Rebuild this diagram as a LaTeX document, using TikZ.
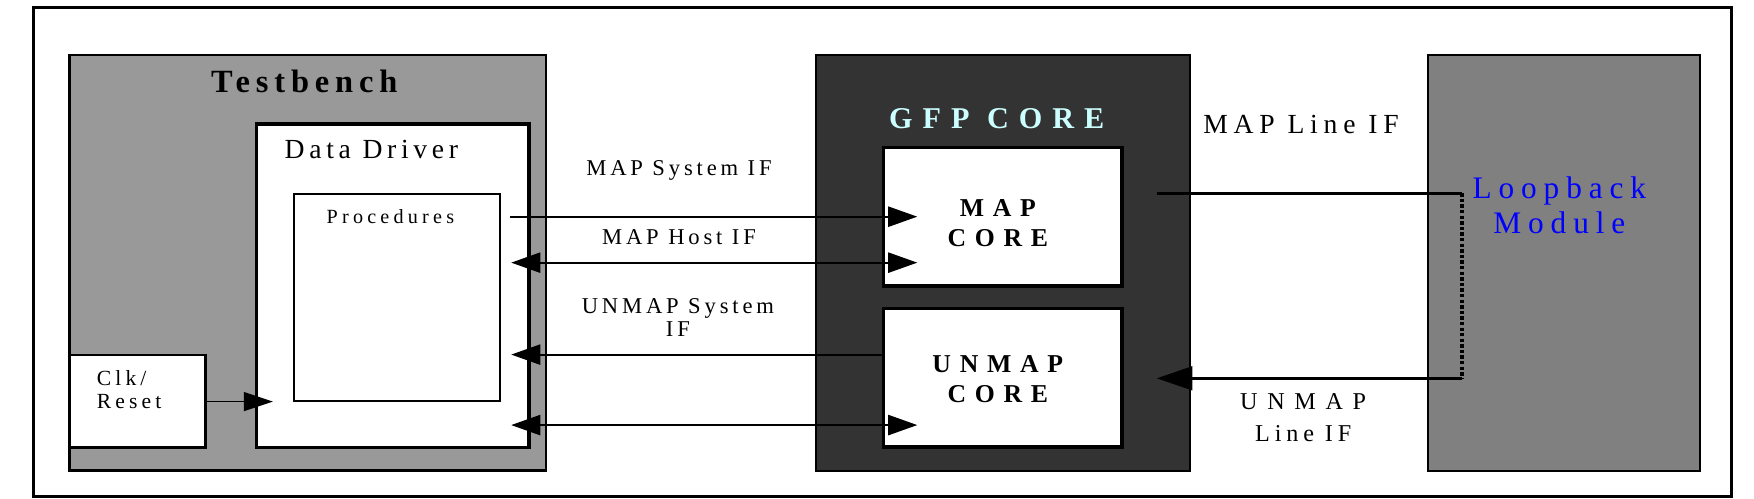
\documentclass[tikz,border=0pt]{standalone}
\usepackage{fontspec}
\setmainfont{Liberation Serif}
\usetikzlibrary{arrows.meta}
\definecolor{tbgray}{HTML}{999999}
\definecolor{gfpdark}{HTML}{333333}
\definecolor{loopgray}{HTML}{808080}
\definecolor{gfpcyan}{HTML}{CCFFFF}
\definecolor{loopblue}{HTML}{0000FF}
\newcommand\lsf[3]{\fontsize{#1}{#2}\selectfont\addfontfeatures{LetterSpace=#3}}
\begin{document}
\begin{tikzpicture}[x=1pt,y=-1pt,
  box/.style={draw=black, inner sep=0pt, outer sep=0pt},
  txt/.style={inner sep=0pt, outer sep=0pt, text=black, anchor=base},
  arr/.style={line width=1.8pt, -{Triangle[length=26pt,width=18pt]}},
  darr/.style={line width=1.8pt, {Triangle[length=26pt,width=18pt]}-{Triangle[length=26pt,width=18pt]}},
  thick line/.style={line width=3.2pt},
]
\useasboundingbox (0,0) rectangle (1568,446);
% boxes
\node[box, line width=3pt, minimum width=1518pt, minimum height=437.5pt] (frame) at (789,225.25) {};
\node[box, line width=2.2pt, fill=tbgray, minimum width=426pt, minimum height=371.6pt] (testbench) at (275,235) {};
\node[box, line width=3pt, fill=white, minimum width=243.5pt, minimum height=289.1pt] (driver) at (351.25,255.45) {};
\node[box, line width=2pt, fill=white, minimum width=184pt, minimum height=185.1pt] (procs) at (355,265.95) {};
\node[box, line width=2.5pt, fill=white, minimum width=122pt, minimum height=82.8pt] (clk) at (123,358.8) {};
\node[box, line width=2pt, fill=gfpdark, minimum width=334.5pt, minimum height=371.6pt] (gfp) at (896.75,235) {};
\node[box, line width=2.8pt, fill=white, minimum width=213pt, minimum height=124pt] (mapcore) at (896.5,193.7) {};
\node[box, line width=2.8pt, fill=white, minimum width=213pt, minimum height=123.6pt] (unmapcore) at (896.5,337.8) {};
\node[box, line width=2pt, fill=loopgray, minimum width=243.7pt, minimum height=371.6pt] (loop) at (1398.15,235) {};
% texts
\node[txt, font={\lsf{29}{29}{18}\bfseries}] (tbt) at (272,82.9) {Testbench};
\node[txt, font={\lsf{24.7}{24.7}{17}}] (ddt) at (332,141.5) {Data Driver};
\node[txt, font={\lsf{18}{18}{21}}] (prt) at (349,199.6) {Procedures};
\node[txt, anchor=base west, align=left, font={\lsf{19.3}{20.8}{19}}] (clkt) at (86.7,365) {Clk/\\Reset};
\node[txt, text=gfpcyan, font={\lsf{27}{27}{33}\bfseries}] (gfpt) at (891,114.7) {GFP CORE};
\node[txt, align=center, font={\lsf{23}{26.8}{34}\bfseries}] (mapt) at (892,220) {MAP\\CORE};
\node[txt, align=center, font={\lsf{23}{26.8}{34}\bfseries}] (unmapt) at (892,360) {UNMAP\\CORE};
\node[txt, font={\lsf{20.2}{20.2}{17}}] (msyst) at (607,157) {MAP System IF};
\node[txt, font={\lsf{20.2}{20.2}{17}}] (mhostt) at (607,219) {MAP Host IF};
\node[txt, align=center, font={\lsf{20.2}{21}{17}}] (usyst) at (606,301) {UNMAP System\\IF};
\node[txt, font={\lsf{24.7}{24.7}{21}}] (mlinet) at (1163,119.2) {MAP Line IF};
\node[txt, align=center, font={\lsf{21.6}{28.9}{20}}] (ulinet) at (1165,394.8) {{\addfontfeatures{LetterSpace=40}UNMAP}\\Line IF};
\node[txt, align=center, text=loopblue, font={\lsf{28}{31.3}{22}}] (loopt) at (1394,208.6) {Loopback\\Module};
% connector end points
\coordinate (clktip) at (244,359);
\coordinate (ms0) at (456,193.7);
\coordinate (ms1) at (820,193.7);
\coordinate (mh0) at (457,234.8);
\coordinate (mh1) at (820,234.8);
\coordinate (us1) at (457,317);
\coordinate (b0) at (457,380);
\coordinate (b1) at (820,380);
\coordinate (ml0) at (1034,172.8);
\coordinate (lb1) at (1306.7,172.8);
\coordinate (lb2) at (1306.7,338.2);
\coordinate (ul1) at (1034,338.2);
% connectors
\draw[line width=1.3pt, -{Triangle[length=26pt,width=17pt]}] (clk.east |- clktip) -- (clktip);
\draw[arr] (ms0) -- (ms1);
\draw[darr] (mh0) -- (mh1);
\draw[arr] (unmapcore.west |- us1) -- (us1);
\draw[darr] (b0) -- (b1);
\draw[thick line] (ml0) -- (lb1);
\draw[line width=3.2pt, dash pattern=on 3pt off 2pt] (lb1) -- (lb2);
\draw[thick line, -{Triangle[length=32pt,width=21pt]}] (lb2) -- (ul1);
\end{tikzpicture}
\end{document}
